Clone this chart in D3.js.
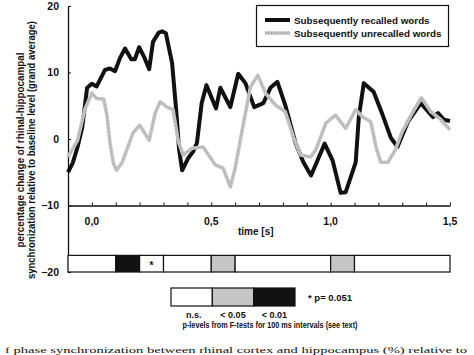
<!DOCTYPE html>
<html><head><meta charset="utf-8">
<script src="https://cdn.jsdelivr.net/npm/d3@7"></script>
<style>html,body{margin:0;padding:0;background:#fff;}svg{display:block;}text{font-family:"Liberation Sans",Arial,sans-serif;fill:#111;}</style>
</head><body>
<svg id="c" width="474" height="355"></svg>
<script>
// ---- data ----
const recalledT = [-0.10,-0.08,-0.06,-0.04,-0.02,0.00,0.02,0.055,0.076,0.097,0.118,0.139,0.165,0.18,0.198,0.218,0.24,0.256,0.28,0.294,0.31,0.336,0.353,0.365,0.378,0.403,0.424,0.44,0.46,0.48,0.52,0.538,0.58,0.613,0.643,0.68,0.718,0.748,0.777,0.81,0.853,0.886,0.918,0.975,1.008,1.042,1.063,1.105,1.118,1.139,1.18,1.218,1.252,1.28,1.324,1.378,1.428,1.45,1.475,1.50];
const recalledV = [-5.0,-3.6,-1.2,1.8,7.7,8.3,7.9,10.4,10.6,10.2,12.2,13.6,12.0,12.0,13.8,12.4,10.5,14.6,16.0,16.2,15.9,11.4,4.4,-1.5,-4.7,-2.9,-1.9,-0.6,5.4,8.1,4.6,7.7,4.8,9.8,8.4,4.8,5.4,7.7,8.6,5.1,-0.6,-3.5,-5.5,-0.7,-3.2,-8.1,-8.0,-3.5,3.3,8.4,7.1,3.6,0.2,-1.2,2.6,5.4,3.3,3.9,2.9,2.7];
const unrecalledT = [-0.10,-0.06,-0.03,0.00,0.02,0.05,0.063,0.076,0.09,0.103,0.126,0.151,0.172,0.20,0.24,0.265,0.286,0.315,0.34,0.361,0.382,0.42,0.466,0.517,0.55,0.58,0.60,0.63,0.664,0.695,0.727,0.769,0.81,0.845,0.874,0.916,0.937,0.98,1.02,1.063,1.105,1.134,1.168,1.19,1.21,1.24,1.27,1.30,1.345,1.38,1.42,1.462,1.50];
const unrecalledV = [-2.7,-0.2,4.4,6.9,6.1,6.0,3.6,-0.6,-3.6,-4.7,-3.6,-1.2,0.9,2.1,-0.2,3.9,5.6,4.8,4.4,-0.2,-2.4,-1.4,-1.2,-3.9,-4.4,-7.2,-4.4,1.4,7.8,9.6,6.9,5.1,4.1,0.2,-2.4,-2.7,-1.7,2.4,3.6,1.6,4.4,3.3,2.6,-1.2,-3.5,-3.5,-1.7,1.1,4.1,6.2,4.1,2.9,1.4];
const seriesNames = ["Subsequently recalled words","Subsequently unrecalled words"];
const yTicks = [-20,-10,0,10,20];
const xTicks = [0,0.5,1.0,1.5];
const xMinorTicks = [-0.1,0,0.1,0.2,0.3,0.4,0.5,0.6,0.7,0.8,0.9,1.0,1.1,1.2,1.3,1.4,1.5];
const pStart = [-0.1,0.1,0.2,0.3,0.5,0.6,1.0,1.1];
const pEnd   = [0.1,0.2,0.3,0.5,0.6,1.0,1.1,1.5];
const pLevel = ["ns","p01","ns","ns","p05","ns","p05","ns"];
const pStar  = [false,false,true,false,false,false,false,false];
const levelKeys = ["ns","p05","p01"];
const levelLabels = ["n.s.","< 0.05","< 0.01"];

// ---- drawing ----
const svg = d3.select("#c");
const x = d3.scaleLinear().domain([-0.1,1.5]).range([68,450]);
const y = d3.scaleLinear().domain([-20,20]).range([272,6]);
const fill = d3.scaleOrdinal().domain(levelKeys).range(["#ffffff","#c6c6c6","#121212"]);
const fmt = d => d3.format(".1f")(d).replace(".",",");

// y axis
const ya = svg.append("g").attr("transform","translate(68,0)")
  .call(d3.axisLeft(y).tickValues(yTicks).tickSizeInner(-3).tickSizeOuter(0).tickPadding(9).tickFormat(d3.format("d")));
ya.select(".domain").attr("stroke","#111").attr("stroke-width",1.3);
ya.selectAll(".tick line").attr("stroke","#111");
ya.selectAll("text").style("font-size","10.5px").style("font-weight","bold");

// x axis at y=-10
const xa = svg.append("g").attr("transform",`translate(0,${y(-10)})`)
  .call(d3.axisBottom(x).tickValues(xMinorTicks).tickSizeInner(-3).tickSizeOuter(0).tickFormat(""));
xa.select(".domain").attr("stroke","#111").attr("stroke-width",1.3);
xa.selectAll(".tick line").attr("stroke","#111");
svg.append("g").selectAll("text").data(xTicks).join("text")
  .attr("x",d=>x(d)).attr("y",y(-10)+19).attr("text-anchor","middle")
  .style("font-size","10.5px").style("font-weight","bold").text(fmt);
svg.append("text").attr("x",238).attr("y",235).style("font-size","10px").style("font-weight","bold").text("time [s]");

// y label
const yl = svg.append("g").attr("transform","translate(0,150) rotate(-90)");
yl.append("text").attr("x",0).attr("y",24).attr("text-anchor","middle")
  .attr("textLength",195).attr("lengthAdjust","spacingAndGlyphs")
  .style("font-size","10px").style("font-weight","bold").text("percentage change of rhinal-hippocampal");
yl.append("text").attr("x",0).attr("y",35).attr("text-anchor","middle")
  .attr("textLength",258).attr("lengthAdjust","spacingAndGlyphs")
  .style("font-size","10px").style("font-weight","bold").text("synchronization relative to baseline level (grand average)");

// lines
const line = d3.line().x(d=>x(d[0])).y(d=>y(d[1]));
const rec = recalledT.map((t,i)=>[t,recalledV[i]]);
const unr = unrecalledT.map((t,i)=>[t,unrecalledV[i]]);
svg.append("path").datum(rec).attr("d",line).attr("fill","none")
  .attr("stroke","#111").attr("stroke-width",4).attr("stroke-linejoin","round");
svg.append("path").datum(unr).attr("d",line).attr("fill","none")
  .attr("stroke","#c2c2c2").attr("stroke-width",3.6).attr("stroke-linejoin","round");
svg.append("path").datum(unr).attr("d",line).attr("fill","none")
  .attr("stroke","#8a8a8a").attr("stroke-width",1).attr("stroke-dasharray","1 3").attr("opacity",0.6);

// legend
svg.append("rect").attr("x",256.5).attr("y",5.5).attr("width",192).attr("height",41)
  .attr("fill","#fff").attr("stroke","#111").attr("stroke-width",1.2);
svg.append("line").attr("x1",265).attr("x2",290).attr("y1",20).attr("y2",20).attr("stroke","#111").attr("stroke-width",4);
svg.append("line").attr("x1",265).attr("x2",290).attr("y1",33).attr("y2",33).attr("stroke","#c2c2c2").attr("stroke-width",3.6);
svg.append("line").attr("x1",265).attr("x2",290).attr("y1",33).attr("y2",33).attr("stroke","#777").attr("stroke-width",1).attr("stroke-dasharray","1 2").attr("opacity",0.7);
svg.selectAll(".lg").data(seriesNames).join("text").attr("class","lg")
  .attr("x",294).attr("y",(d,i)=>23.5+i*13.5).style("font-size","9.8px").style("font-weight","bold").text(d=>d);

// p-level bar
const cells = pStart.map((s,i)=>({s,e:pEnd[i],l:pLevel[i],star:pStar[i]}));
svg.append("g").selectAll("rect").data(cells).join("rect")
  .attr("x",d=>x(d.s)).attr("width",d=>x(d.e)-x(d.s))
  .attr("y",y(-17.5)).attr("height",y(-20)-y(-17.5))
  .attr("fill",d=>fill(d.l)).attr("stroke","#111").attr("stroke-width",1.2);
svg.append("g").selectAll("text").data(cells.filter(d=>d.star)).join("text")
  .attr("x",d=>(x(d.s)+x(d.e))/2).attr("y",(y(-17.5)+y(-20))/2+5).attr("text-anchor","middle")
  .style("font-size","10px").style("font-weight","bold").text("*");

// p-level key
const kx = d3.scaleBand().domain(levelKeys).range([171,295]);
svg.append("g").selectAll("rect").data(levelKeys).join("rect")
  .attr("x",d=>kx(d)).attr("width",kx.bandwidth()).attr("y",288).attr("height",18)
  .attr("fill",d=>fill(d)).attr("stroke","#111").attr("stroke-width",1.2);
svg.append("g").selectAll("text").data(levelKeys).join("text")
  .attr("x",(d,i)=>kx(d)+kx.bandwidth()/2+(i===0?2:0)).attr("y",318).attr("text-anchor","middle")
  .style("font-size","9px").style("font-weight","bold").text((d,i)=>levelLabels[i]);
svg.append("text").attr("x",308).attr("y",301).style("font-size","9.5px").style("font-weight","bold").text("* p= 0.051");
svg.append("text").attr("x",270).attr("y",328).attr("text-anchor","middle")
  .attr("textLength",175).attr("lengthAdjust","spacingAndGlyphs")
  .style("font-size","9px").style("font-weight","bold").text("p-levels from F-tests for 100 ms intervals (see text)");

// caption line at the bottom edge
svg.append("text").attr("x",5).attr("y",353)
  .attr("textLength",462).attr("lengthAdjust","spacingAndGlyphs")
  .style("font-family","'Liberation Serif',serif").style("font-size","9px")
  .text("f phase synchronization between rhinal cortex and hippocampus (%) relative to");
</script>
</body></html>
